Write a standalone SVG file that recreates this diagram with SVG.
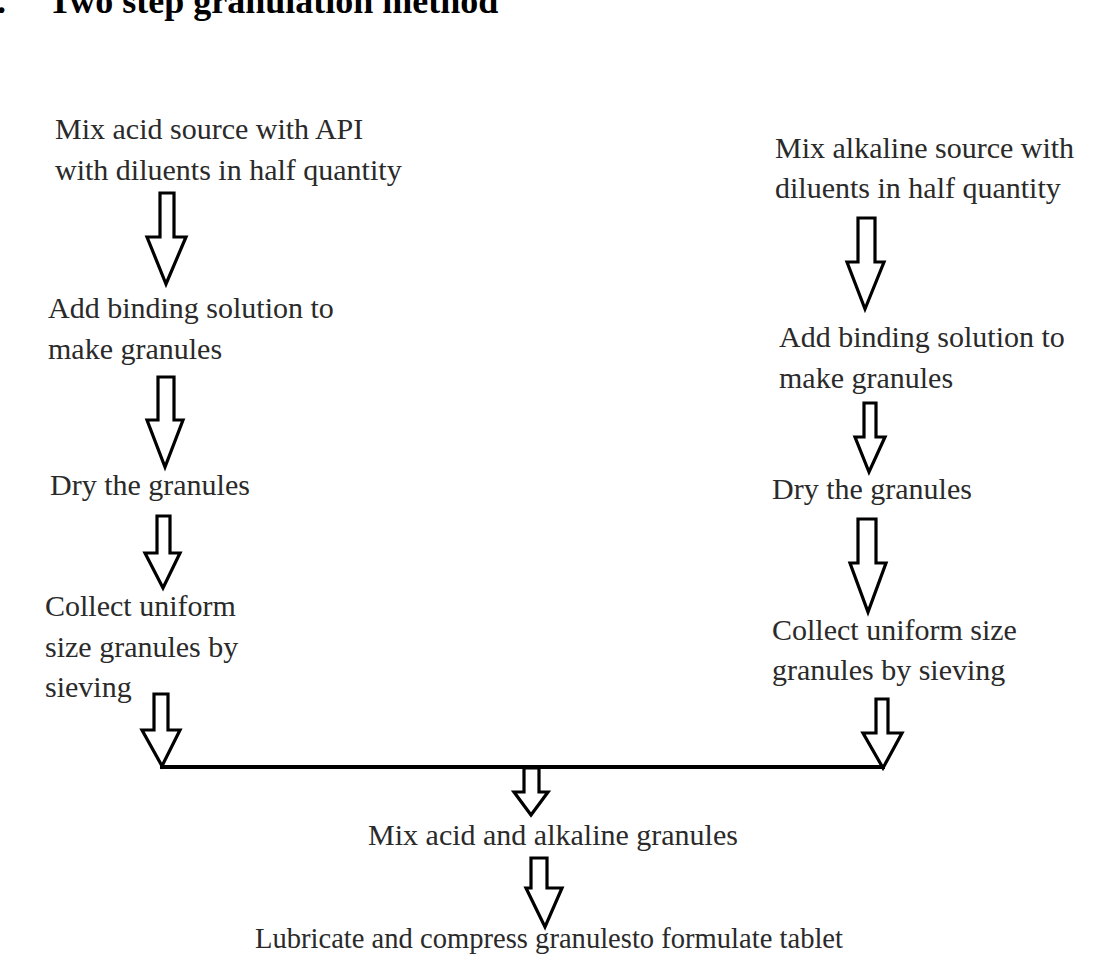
<svg xmlns="http://www.w3.org/2000/svg" width="1094" height="955" viewBox="0 0 1094 955">
<style>
.t{font-family:"Liberation Serif","Times New Roman",serif;font-size:30px;fill:#2a2a2a}
.title{font-family:"Liberation Serif","Times New Roman",serif;font-size:36px;font-weight:bold;fill:#000}
.ar{fill:#fff;stroke:#000;stroke-width:3.2;stroke-linejoin:miter}
.ln{stroke:#000;stroke-width:4;fill:none}
</style>
<rect width="1094" height="955" fill="#fff"/>
<g id="title">
<text class="title" x="-3" y="13">.</text>
<text class="title" x="48" y="13">Two step granulation method</text>
</g>
<g id="n-left-1"><text class="t" x="55" y="139">Mix acid source with API</text><text class="t" x="55" y="180">with diluents in half quantity</text></g>
<g id="n-left-2"><text class="t" x="48" y="318">Add binding solution to</text><text class="t" x="48" y="359">make granules</text></g>
<g id="n-left-3"><text class="t" x="50" y="495">Dry the granules</text></g>
<g id="n-left-4"><text class="t" x="45" y="616">Collect uniform</text><text class="t" x="45" y="657">size granules by</text><text class="t" x="45" y="697">sieving</text></g>
<g id="n-right-1"><text class="t" x="775" y="158">Mix alkaline source with</text><text class="t" x="775" y="198">diluents in half quantity</text></g>
<g id="n-right-2"><text class="t" x="779" y="347">Add binding solution to</text><text class="t" x="779" y="388">make granules</text></g>
<g id="n-right-3"><text class="t" x="772" y="499">Dry the granules</text></g>
<g id="n-right-4"><text class="t" x="772" y="640">Collect uniform size</text><text class="t" x="772" y="680">granules by sieving</text></g>
<g id="n-mix"><text class="t" x="553" y="845" text-anchor="middle">Mix acid and alkaline granules</text></g>
<g id="n-final"><text class="t" x="255" y="948" textLength="588" lengthAdjust="spacingAndGlyphs">Lubricate and compress granulesto formulate tablet</text></g>
<g id="connectors">
<polygon class="ar" points="160,193 174,193 174,237 186,237 166,284 147,237 160,237"/>
<polygon class="ar" points="158,377 174,377 174,420 183,420 165,467 147,420 158,420"/>
<polygon class="ar" points="157,516 170,516 170,553 180,553 163,588 145,553 157,553"/>
<polygon class="ar" points="154,694 168,694 168,730 180,730 162,766 142,730 154,730"/>
<polygon class="ar" points="858,218 875,218 875,262 884,262 865,309 847,262 858,262"/>
<polygon class="ar" points="864,403 876,403 876,437 885,437 869,472 855,437 864,437"/>
<polygon class="ar" points="858,519 876,519 876,563 886,563 868,612 850,563 858,563"/>
<polygon class="ar" points="876,699 888,699 888,733 902,733 883,768 863,733 876,733"/>
<line class="ln" x1="160" y1="767" x2="885" y2="767"/>
<polygon class="ar" points="524,768 539,768 539,792 548,792 531,815 514,792 524,792"/>
<polygon class="ar" points="531,858 547,858 547,888 562,888 545,927 526,888 531,888"/>
</g>
</svg>
